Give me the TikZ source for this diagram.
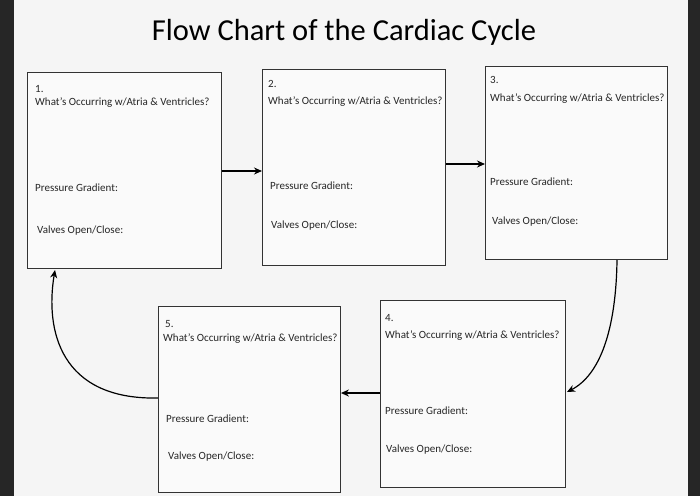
\documentclass[tikz,border=0pt]{standalone}
\usepackage{fontspec}
\setmainfont{Carlito}
\usetikzlibrary{arrows.meta}
\begin{document}
\begin{tikzpicture}[x=1pt,y=-1pt,
  box/.style={draw=black!80,line width=0.9pt,fill=white!96!gray,inner sep=0pt,anchor=north west},
  lbl/.style={anchor=west,inner sep=0pt,font=\fontsize{11}{13}\selectfont,text=black!85},
  arr/.style={line width=1.6pt,-{Stealth[length=8pt,width=7pt]}},
  carr/.style={line width=1.2pt,-{Stealth[length=8pt,width=7pt]}}]
\fill[black!85] (0,0) rectangle (700,496);
\fill[white!92!gray] (14,0) rectangle (688,496);
\useasboundingbox (0,0) rectangle (700,496);
\node[anchor=center,font=\fontsize{30.5}{36}\selectfont] (title) at (344,32) {Flow Chart of the Cardiac Cycle};
\node[box,minimum width=194pt,minimum height=196pt] (b1) at (27,72) {};
\node[box,minimum width=183pt,minimum height=196pt] (b2) at (262,69) {};
\node[box,minimum width=182pt,minimum height=193pt] (b3) at (485,66) {};
\node[box,minimum width=185pt,minimum height=187pt] (b4) at (380,300) {};
\node[box,minimum width=182pt,minimum height=186pt] (b5) at (158,306) {};
% texts
\node[lbl] (n1) at (35,89) {1.};
\node[lbl] (q1) at (35,103) {What's Occurring w/Atria \& Ventricles?};
\node[lbl] (p1) at (35,188) {Pressure Gradient:};
\node[lbl] (v1) at (37,231) {Valves Open/Close:};
\node[lbl] (n2) at (268,84) {2.};
\node[lbl] (q2) at (268,102) {What's Occurring w/Atria \& Ventricles?};
\node[lbl] (p2) at (270,186) {Pressure Gradient:};
\node[lbl] (v2) at (271,226) {Valves Open/Close:};
\node[lbl] (n3) at (490,80) {3.};
\node[lbl] (q3) at (490,99) {What's Occurring w/Atria \& Ventricles?};
\node[lbl] (p3) at (490,182) {Pressure Gradient:};
\node[lbl] (v3) at (492,222) {Valves Open/Close:};
\node[lbl] (n4) at (385,318) {4.};
\node[lbl] (q4) at (385,336) {What's Occurring w/Atria \& Ventricles?};
\node[lbl] (p4) at (385,411) {Pressure Gradient:};
\node[lbl] (v4) at (386,450) {Valves Open/Close:};
\node[lbl] (n5) at (165,324) {5.};
\node[lbl] (q5) at (163,339) {What's Occurring w/Atria \& Ventricles?};
\node[lbl] (p5) at (166,419) {Pressure Gradient:};
\node[lbl] (v5) at (168,457) {Valves Open/Close:};
% arrows
\draw[arr] (b1.east |- 0,171) -- (b2.west |- 0,171);
\draw[arr] (b2.east |- 0,164) -- (b3.west |- 0,164);
\draw[arr] (b4.west |- 0,393) -- (b5.east |- 0,393);
\coordinate (c3) at (617,260);
\coordinate (c4) at (567,392);
\draw[carr] (c3) .. controls (616,330) and (600,375) .. (c4);
\coordinate (c5) at (158,398);
\coordinate (c1) at (55,270);
\draw[carr] (c5) .. controls (60,400) and (45,330) .. (c1);
\end{tikzpicture}
\end{document}
